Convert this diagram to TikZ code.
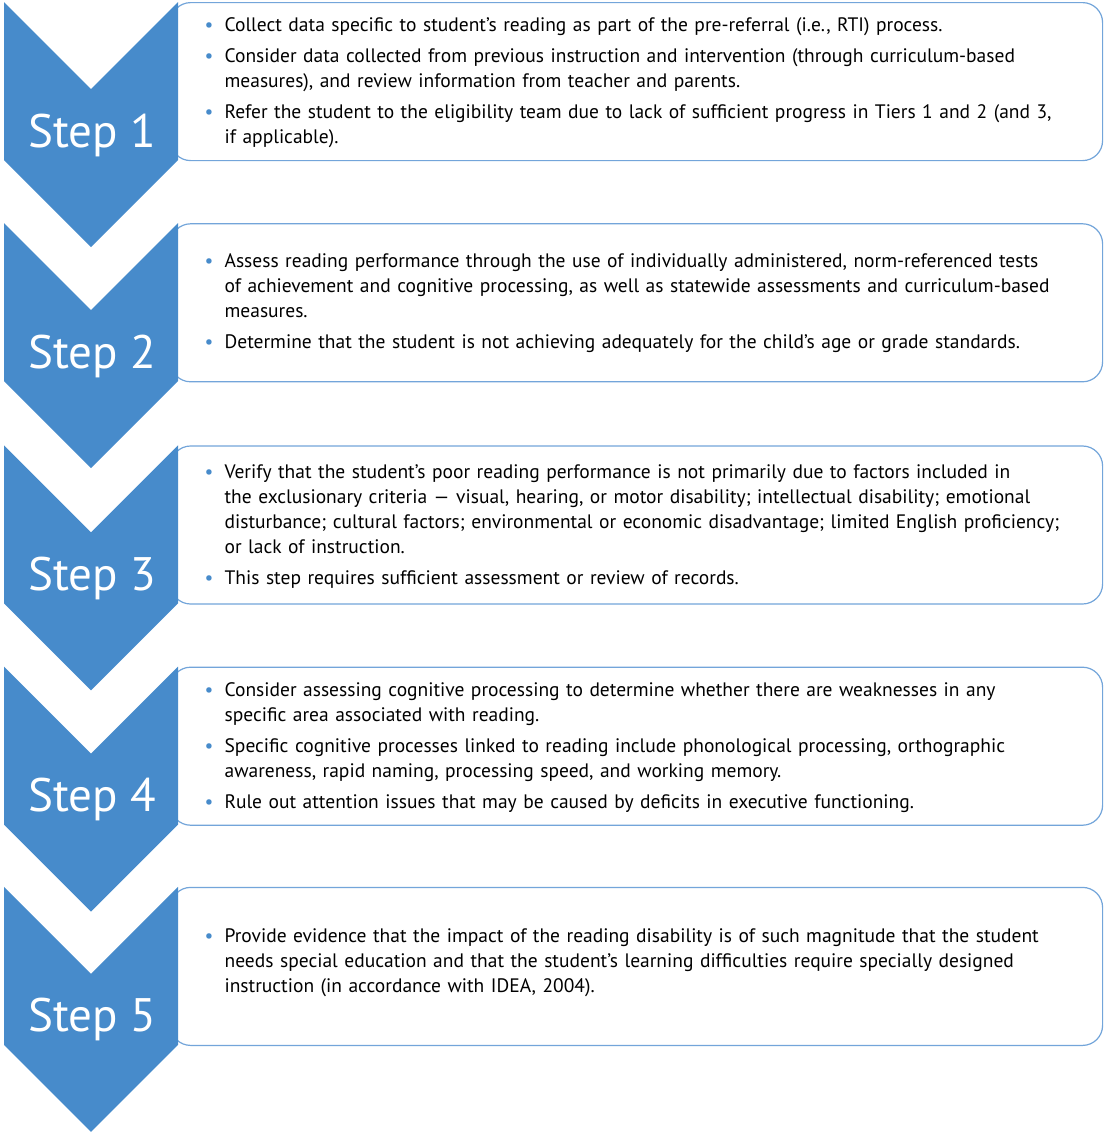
\documentclass[tikz,border=0pt]{standalone}
\usepackage{fontspec}
\setmainfont{PT Sans}
\usetikzlibrary{positioning, calc}

\definecolor{stepblue}{RGB}{71,139,203}
\definecolor{boxline}{RGB}{115,165,218}

\newcommand{\bitem}[1]{\noindent\hangindent=44pt\hangafter=1%
  \hspace*{24pt}\makebox[20pt][l]{\textcolor{stepblue}{\textbullet}}#1\par\vspace{6pt}}
\newcommand{\bend}[1]{\vspace{#1}\kern0pt}

\begin{document}
\begin{tikzpicture}[
    x=1pt, y=-1pt,
    box/.style={
        draw=boxline, line width=1.2pt, fill=white, rounded corners=20pt,
        minimum width=932pt, minimum height=158pt,
        text width=912pt, inner xsep=10pt, align=left,
        font=\fontsize{19.5}{25}\selectfont,
        execute at begin node={\setlength{\parskip}{0pt}}
    },
    chevron/.style={fill=stepblue},
    steplbl/.style={anchor=base, text=white, font=\fontsize{47}{50}\selectfont}
]
\useasboundingbox (0,0) rectangle (1106,1133);

% -- text boxes --
\node[box, anchor=north west] (box1) at (170,2) {%
  \bitem{Collect data specific to student’s reading as part of the pre-referral (i.e., RTI) process.}
  \bitem{Consider data collected from previous instruction and intervention (through curriculum-based\newline measures), and review information from teacher and parents.}
  \bitem{Refer the student to the eligibility team due to lack of sufficient progress in Tiers 1 and 2 (and 3,\newline if applicable).}\bend{-8pt}};

\node[box, below=62pt of box1] (box2) {%
  \bitem{Assess reading performance through the use of individually administered, norm-referenced tests\newline of achievement and cognitive processing, as well as statewide assessments and curriculum-based\newline measures.}
  \bitem{Determine that the student is not achieving adequately for the child’s age or grade standards.}};

\node[box, below=63pt of box2] (box3) {%
  \bitem{Verify that the student’s poor reading performance is not primarily due to factors included in\newline the exclusionary criteria — visual, hearing, or motor disability; intellectual disability; emotional\newline disturbance; cultural factors; environmental or economic disadvantage; limited English proficiency;\newline or lack of instruction.}
  \bitem{This step requires sufficient assessment or review of records.}\bend{-10pt}};

\node[box, below=62pt of box3] (box4) {%
  \bitem{Consider assessing cognitive processing to determine whether there are weaknesses in any\newline specific area associated with reading.}
  \bitem{Specific cognitive processes linked to reading include phonological processing, orthographic\newline awareness, rapid naming, processing speed, and working memory.}
  \bitem{Rule out attention issues that may be caused by deficits in executive functioning.}\bend{-8pt}};

\node[box, below=61pt of box4] (box5) {%
  \bitem{Provide evidence that the impact of the reading disability is of such magnitude that the student\newline needs special education and that the student’s learning difficulties require specially designed\newline instruction (in accordance with IDEA, 2004).}\bend{2pt}};

% -- chevrons --
\fill[chevron] ($(box1.north west)+(-166,0)$) -- ++(87,87) -- ++(87,-87) -- ++(0,158) -- ++(-87,87) -- ++(-87,-87) -- cycle;
\fill[chevron] ($(box2.north west)+(-166,0)$) -- ++(87,87) -- ++(87,-87) -- ++(0,158) -- ++(-87,87) -- ++(-87,-87) -- cycle;
\fill[chevron] ($(box3.north west)+(-166,0)$) -- ++(87,87) -- ++(87,-87) -- ++(0,158) -- ++(-87,87) -- ++(-87,-87) -- cycle;
\fill[chevron] ($(box4.north west)+(-166,0)$) -- ++(87,87) -- ++(87,-87) -- ++(0,158) -- ++(-87,87) -- ++(-87,-87) -- cycle;
\fill[chevron] ($(box5.north west)+(-166,0)$) -- ++(87,87) -- ++(87,-87) -- ++(0,158) -- ++(-87,87) -- ++(-87,-87) -- cycle;

% -- step labels --
\node[steplbl] (step1) at ($(box1.north west)+(-78,145)$) {Step 1};
\node[steplbl] (step2) at ($(box2.north west)+(-78,145)$) {Step 2};
\node[steplbl] (step3) at ($(box3.north west)+(-78,145)$) {Step 3};
\node[steplbl] (step4) at ($(box4.north west)+(-78,145)$) {Step 4};
\node[steplbl] (step5) at ($(box5.north west)+(-78,145)$) {Step 5};

\end{tikzpicture}
\end{document}
